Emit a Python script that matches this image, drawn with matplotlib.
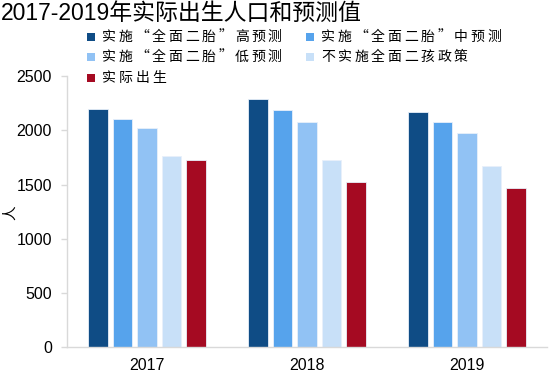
import matplotlib
matplotlib.use("Agg")
import matplotlib.pyplot as plt
import numpy as np

years = ["2017", "2018", "2019"]
series_names = ["实施“全面二胎”高预测", "实施“全面二胎”中预测",
                "实施“全面二胎”低预测", "不实施全面二孩政策", "实际出生"]
high = [2193, 2291, 2171]
mid = [2107, 2184, 2073]
low = [2018, 2079, 1978]
no_policy = [1766, 1723, 1671]
actual = [1723, 1523, 1465]
values = [high, mid, low, no_policy, actual]
colors = ["#0F4C85", "#56A3EC", "#91C2F4", "#C8E0F8", "#A50A22"]
yticks = [0, 500, 1000, 1500, 2000, 2500]

fam = ["Liberation Sans", "Noto Sans CJK SC", "DejaVu Sans"]
cjk = ["Noto Sans CJK SC", "DejaVu Sans"]

fig = plt.figure(figsize=(5.5, 3.74), dpi=100)
ax = fig.add_axes([67/550, 1-347.3/374, 480/550, 271.3/374])

x = np.arange(len(years))
width = 0.122
step = 0.153
for i, (vals, c, name) in enumerate(zip(values, colors, series_names)):
    ax.bar(x + (i - 2) * step, vals, width=width, color=c, edgecolor="#E8F0FA",
           linewidth=0.6, label=name, zorder=2)

ax.set_xlim(-0.5, 2.5)
ax.set_ylim(0, 2500)
ax.set_yticks(yticks)
ax.set_xticks(x)
ax.set_xticklabels(years, fontfamily=fam, fontsize=11.5)
ax.set_yticklabels([str(v) for v in yticks], fontfamily=fam, fontsize=11.5)
for s in ["top", "right"]:
    ax.spines[s].set_visible(False)
for s in ["left", "bottom"]:
    ax.spines[s].set_color("#D9D9D9")
    ax.spines[s].set_linewidth(1.0)
ax.tick_params(axis="y", length=4.3, width=1.0, color="#D9D9D9", pad=6.5)
ax.tick_params(axis="x", length=0, pad=8)

# y label
fig.text(10/550, 1-213/374, "人", fontfamily=cjk, fontsize=10.5, rotation=90,
         va="center", ha="center")

# title
fig.text(0.002, 1-13/374, "2017-2019年实际出生人口和预测值", fontfamily=fam,
         fontsize=16.5, va="center", ha="left")

# legend (manual, 2 columns, wide character spacing)
adv = 16.6
leg_pos = [(87, 37), (306, 37), (87, 57), (306, 57), (87, 78)]
for (px, py), c, name in zip(leg_pos, colors, series_names):
    fig.patches.append(matplotlib.patches.Rectangle(
        (px/550, 1-(py+4)/374), 8/550, 8/374, transform=fig.transFigure,
        facecolor=c, edgecolor="none"))
    for k, ch in enumerate(name):
        fig.text((px + 15 + k*adv)/550, 1-py/374, ch, fontfamily=cjk,
                 fontsize=10, va="center", ha="left")

fig.savefig("out.png", dpi=100)
